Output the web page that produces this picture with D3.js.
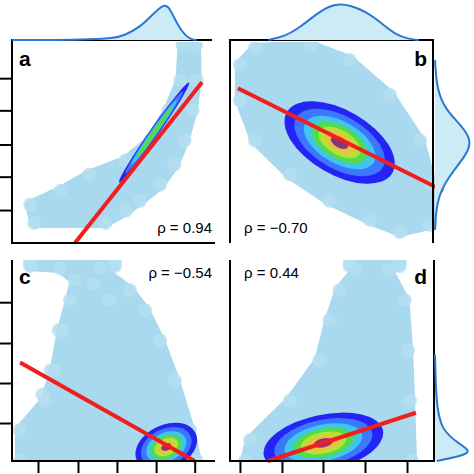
<!DOCTYPE html>
<html><head><meta charset="utf-8">
<script src="https://cdn.jsdelivr.net/npm/d3@7"></script>
<style>body{margin:0;background:#fff}</style>
</head><body>
<script>
// cloud outlines (data units 0-100)
const hullA = [[84,98.5],[90.6,98.5],[91,81],[89,66],[85,51],[80,39],[73,29],[63,21],[56,16],[46,10],[11,10],[9,19],[24,26],[38,34],[56,41],[68,51],[77,66],[83,81]];
const hullB = [[12.3,97],[39.4,98.5],[59,91],[78.8,73.6],[93.6,51],[99.5,29],[98.5,9],[83.7,5.5],[69,11.4],[49,21],[29.6,34],[12.3,51],[4.9,71],[4.9,88.6]];
const hullC = [[8.9,99],[50.7,99],[50.7,97],[43.3,96],[58,85],[65.5,75],[72.9,60],[80.3,40],[87.7,15.4],[91,0],[3.9,0],[3.9,15.4],[16.3,30],[21,45],[24.6,65],[28.6,80],[31,90],[23.6,96],[8.9,97]];
const hullD = [[59,99],[83.7,99],[83.7,97],[78,95],[86,80],[87.7,55],[88.7,30],[89.7,0],[7.4,0],[9.9,10.4],[29.6,30],[44,50],[49,70],[54,85],[62,95],[59,97]];
const outliersC = [[15,33],[23,65],[19,45],[40,88],[48,80]];
// density cores: center, radii, angle
const coreA = {c:[70,55], r:[30,2.2], a:-55};
const coreB = {c:[54,50], r:[30,16], a:30};
const coreC = {c:[76,7], r:[16,11], a:-25};
const coreD = {c:[46,9], r:[30,14], a:-12};
const levels = [1,0.82,0.65,0.5,0.38,0.27,0.16];
const levelColors = ['#2424f5','#3b78ff','#3fc6e8','#55db45','#b5e23a','#e9c23a','#84367e'];
// regression lines
const fitA = [[31,0],[93.6,80]];
const fitB = [[3.9,77],[105,26]];
const fitC = [[4,49],[90,0]];
const fitD = [[18.7,0],[91.6,24]];
const rhoLabels = ['ρ = 0.94','ρ = −0.70','ρ = −0.54','ρ = 0.44'];
// marginal densities [position, density]
const kdeTopA = [[0,0],[23.6,0],[38,0.02],[50,0.05],[55,0.12],[63,0.35],[70,0.75],[74.4,0.98],[77,0.95],[80,0.6],[84,0.2],[87.7,0.02],[91,0]];
const kdeTopB = [[19,0],[19.7,0.02],[27,0.1],[34.5,0.35],[42,0.7],[49,0.95],[54,1],[59,0.97],[66.5,0.8],[74,0.5],[81.3,0.15],[88.7,0.02],[93,0]];
const kdeRightB = [[91,0],[76,0.05],[66,0.3],[58.7,0.7],[51,1],[43.8,0.85],[33.8,0.4],[24,0.1],[14,0.02],[6.5,0]];
const kdeRightD = [[53,0],[30,0.03],[15.4,0.15],[8,0.7],[4.5,1],[2,0.6],[0,0.05]];
const ticksAy = [82,66,49,33,16.4];
const ticksCy = [79,58.7,38.8,18.9];
const ticksCx = [12.8,32.5,51.7,71,90];
const ticksDx = [4.9,25.6,45.8,66.5,87.2];

const svg = d3.select('body').append('svg').attr('width',474).attr('height',474);

function panel(box, hull, core, fit, label, labelRight, rho, rhoRight, rhoTop, nLevels) {
  const x = d3.scaleLinear().domain([0,100]).range([box[0],box[1]]);
  const y = d3.scaleLinear().domain([0,100]).range([box[3],box[2]]);
  const g = svg.append('g');
  const clip = 'clip' + label;
  g.append('clipPath').attr('id',clip).append('rect')
    .attr('x',box[0]).attr('y',box[2]).attr('width',box[1]-box[0]+12).attr('height',box[3]-box[2]);
  const inner = g.append('g').attr('clip-path',`url(#${clip})`);
  const line = d3.line().x(d=>x(d[0])).y(d=>y(d[1])).curve(d3.curveLinearClosed);
  inner.append('path').attr('d',line(hull)).attr('fill','#a9d9ee').attr('stroke','#a9d9ee').attr('stroke-width',10).attr('stroke-linejoin','round');
  inner.selectAll('circle.pt').data(hull.concat(label==='c'?outliersC:[])).enter().append('circle')
    .attr('cx',d=>x(d[0])).attr('cy',d=>y(d[1])).attr('r',7).attr('fill','#b4def0').attr('opacity',0.8);
  const sx = x(1)-x(0), sy = y(0)-y(1);
  inner.selectAll('ellipse').data(levels.slice(0,nLevels)).enter().append('ellipse')
    .attr('transform',`translate(${x(core.c[0])},${y(core.c[1])}) rotate(${core.a})`)
    .attr('rx',d=>core.r[0]*sx*d).attr('ry',d=>core.r[1]*sy*d)
    .attr('fill',(d,i)=>levelColors[i]);
  g.append('line').attr('x1',x(fit[0][0])).attr('y1',y(fit[0][1])).attr('x2',x(fit[1][0])).attr('y2',y(fit[1][1]))
    .attr('stroke','#f21d1d').attr('stroke-width',4);
  g.append('text').text(label).attr('x',labelRight?box[1]-6:box[0]+7).attr('y',box[2]+24)
    .attr('text-anchor',labelRight?'end':'start').attr('font-family','Liberation Sans, Arial').attr('font-weight','bold').attr('font-size',21);
  g.append('text').text(rho).attr('x',rhoRight?box[1]-3:box[0]+14).attr('y',rhoTop?box[2]+18:box[3]-10)
    .attr('text-anchor',rhoRight?'end':'start').attr('font-family','Liberation Sans, Arial').attr('font-size',15);
  return {x,y,g};
}

const A = panel([12,215,42,243], hullA, coreA, fitA, 'a', false, rhoLabels[0], true, false, 4);
const B = panel([230,433,42,243], hullB, coreB, fitB, 'b', true, rhoLabels[1], false, false, 7);
const C = panel([12,215,260,461], hullC, coreC, fitC, 'c', false, rhoLabels[2], true, true, 7);
const D = panel([230,433,260,461], hullD, coreD, fitD, 'd', true, rhoLabels[3], false, true, 7);

function frame(x1,y1,x2,y2){ svg.append('line').attr('x1',x1).attr('y1',y1).attr('x2',x2).attr('y2',y2).attr('stroke','#000').attr('stroke-width',2); }
frame(12,40,12,243); frame(11,243,215,243);
frame(230,40,230,243); frame(433,40,433,243); frame(229,40,434,40); frame(11,40,212,40);
frame(12,260,12,462); frame(11,461,215,461);
frame(230,260,230,462); frame(229,461,433,461); frame(434,260,434,462);

function axisG(ax, tr){ const g = svg.append('g').attr('transform',tr).call(ax.tickFormat('').tickSize(12).tickSizeOuter(0));
  g.select('.domain').remove(); g.selectAll('line').attr('stroke-width',2); }
axisG(d3.axisLeft(A.y).tickValues(ticksAy),'translate(12,0)');
axisG(d3.axisLeft(C.y).tickValues(ticksCy),'translate(12,0)');
axisG(d3.axisBottom(C.x).tickValues(ticksCx),'translate(0,461)');
axisG(d3.axisBottom(D.x).tickValues(ticksDx),'translate(0,461)');

// marginals
function topKde(xs, data){
  const h = d3.scaleLinear().domain([0,1]).range([40,4]);
  const area = d3.area().x(d=>xs(d[0])).y0(40).y1(d=>h(d[1])).curve(d3.curveBasis);
  svg.append('path').attr('d',area(data)).attr('fill','#cdebf5');
  svg.append('path').attr('d',area.lineY1()(data)).attr('fill','none').attr('stroke','#2a78d4').attr('stroke-width',2);
}
function rightKde(ys, data){
  const w = d3.scaleLinear().domain([0,1]).range([435,472]);
  const area = d3.area().y(d=>ys(d[0])).x0(435).x1(d=>w(d[1])).curve(d3.curveBasis);
  svg.append('path').attr('d',area(data)).attr('fill','#cdebf5');
  svg.append('path').attr('d',area.lineX1()(data)).attr('fill','none').attr('stroke','#2a78d4').attr('stroke-width',2);
}
topKde(A.x, kdeTopA); topKde(B.x, kdeTopB);
rightKde(B.y, kdeRightB); rightKde(D.y, kdeRightD);
</script>
</body></html>
